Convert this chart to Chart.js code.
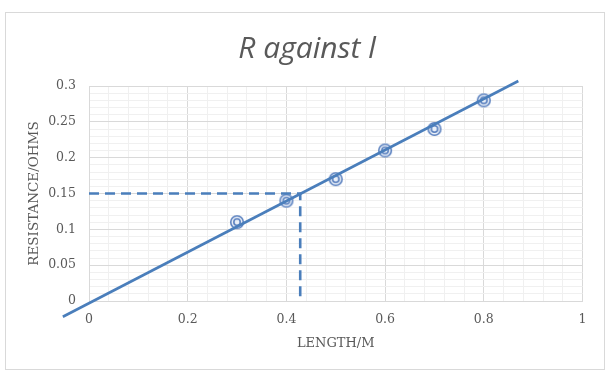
<!DOCTYPE html>
<html>
<head>
<meta charset="utf-8">
<script src="https://cdn.jsdelivr.net/npm/chart.js@4/dist/chart.umd.min.js"></script>
<style>
  html, body { margin: 0; padding: 0; background: #ffffff; }
  #wrap { width: 614px; height: 380px; position: relative; }
</style>
</head>
<body>
<div id="wrap"><canvas id="c" width="614" height="380"></canvas></div>
<script>
// ---- data ----
const lengths = [0.3, 0.4, 0.5, 0.6, 0.7, 0.8];
const resistances = [0.11, 0.14, 0.17, 0.21, 0.24, 0.28];
// straight line of best fit as drawn (end points)
const trendX = [-0.053, 0.87];
const trendY = [-0.022, 0.307];
// dashed reading-off lines
const guideX = [0, 0.428, 0.428];
const guideY = [0.15, 0.15, 0];
// tick labels
const xTickLabels = [0, 0.2, 0.4, 0.6, 0.8, 1];
const yTickLabels = [0, 0.05, 0.1, 0.15, 0.2, 0.25, 0.3];

const toPts = (xs, ys) => xs.map((x, i) => ({x: x, y: ys[i]}));
const isIn = (v, arr) => arr.some(a => Math.abs(a - v) < 1e-9);

const BLUE = '#4a7ebb';
const MAJOR = '#d9d9d9';
const MINOR = '#f0f0f0';
const TEXT = '#595959';

// bullseye marker
const marker = document.createElement('canvas');
marker.width = 16; marker.height = 16;
(function () {
  const m = marker.getContext('2d');
  m.beginPath(); m.arc(8, 8, 6.3, 0, Math.PI * 2);
  m.fillStyle = 'rgba(232,238,247,0.9)'; m.fill();
  m.lineWidth = 1.6; m.strokeStyle = '#5a80bf'; m.stroke();
  m.beginPath(); m.arc(8, 8, 3.2, 0, Math.PI * 2);
  m.lineWidth = 1.6; m.stroke();
})();

const borderPlugin = {
  id: 'outerBorder',
  beforeDraw(chart) {
    const ctx = chart.ctx;
    ctx.save();
    ctx.fillStyle = '#ffffff';
    ctx.fillRect(0, 0, chart.width, chart.height);
    ctx.strokeStyle = '#d9d9d9';
    ctx.lineWidth = 1;
    ctx.strokeRect(5.5, 12.5, 599, 357);
    ctx.restore();
  }
};

new Chart(document.getElementById('c'), {
  type: 'scatter',
  data: {
    datasets: [
      {
        label: 'trend',
        type: 'line',
        data: toPts(trendX, trendY),
        borderColor: BLUE,
        borderWidth: 2.6,
        pointRadius: 0,
        fill: false,
        clip: false,
        order: 0
      },
      {
        label: 'guide',
        type: 'line',
        data: toPts(guideX, guideY),
        borderColor: BLUE,
        borderWidth: 2.6,
        borderDash: [10, 6],
        pointRadius: 0,
        fill: false,
        order: 1
      },
      {
        label: 'R',
        data: toPts(lengths, resistances),
        pointStyle: marker,
        pointRadius: 7,
        order: 2
      }
    ]
  },
  options: {
    responsive: false,
    animation: false,
    layout: { padding: { left: 0, right: 0, top: 0, bottom: 0 } },
    plugins: {
      legend: { display: false },
      tooltip: { enabled: false },
      title: {
        display: true,
        text: 'R against l',
        color: TEXT,
        font: { family: 'Open Sans', size: 30, style: 'italic', weight: 400, lineHeight: 1.2 },
        padding: { top: 31, bottom: 19 }
      }
    },
    scales: {
      x: {
        type: 'linear',
        min: 0, max: 1,
        afterFit(s) { s.height = 79; },
        ticks: {
          stepSize: 0.04,
          autoSkip: false,
          maxRotation: 0,
          padding: 11,
          color: TEXT,
          font: { family: 'DejaVu Serif', size: 12.5 },
          callback: v => isIn(v, xTickLabels) ? String(+v.toFixed(2)) : ''
        },
        grid: {
          drawTicks: false,
          color: c => isIn(c.tick.value, xTickLabels) ? MAJOR : MINOR
        },
        border: { color: MAJOR },
        title: {
          display: true,
          text: 'LENGTH/M',
          color: TEXT,
          font: { family: 'DejaVu Serif', size: 13, lineHeight: 1.2 },
          padding: { top: 0, bottom: 29 }
        }
      },
      y: {
        type: 'linear',
        min: 0, max: 0.3,
        afterFit(s) { s.width = 89; },
        ticks: {
          stepSize: 0.01,
          autoSkip: false,
          padding: 13,
          color: TEXT,
          font: { family: 'DejaVu Serif', size: 12.5 },
          callback: v => isIn(v, yTickLabels) ? String(+v.toFixed(2)) : ''
        },
        grid: {
          drawTicks: false,
          color: c => isIn(c.tick.value, yTickLabels) ? MAJOR : MINOR
        },
        border: { color: MAJOR },
        title: {
          display: true,
          text: 'RESISTANCE/OHMS',
          color: TEXT,
          font: { family: 'DejaVu Serif', size: 13.5, lineHeight: 1.2 },
          padding: { top: 26, bottom: 0 }
        }
      },
      spacer: {
        type: 'linear',
        position: 'right',
        min: 0, max: 1,
        afterFit(s) { s.width = 31.5; },
        grid: { display: false, drawTicks: false },
        border: { display: false },
        ticks: { display: false }
      }
    }
  },
  plugins: [borderPlugin]
});
</script>
</body>
</html>
